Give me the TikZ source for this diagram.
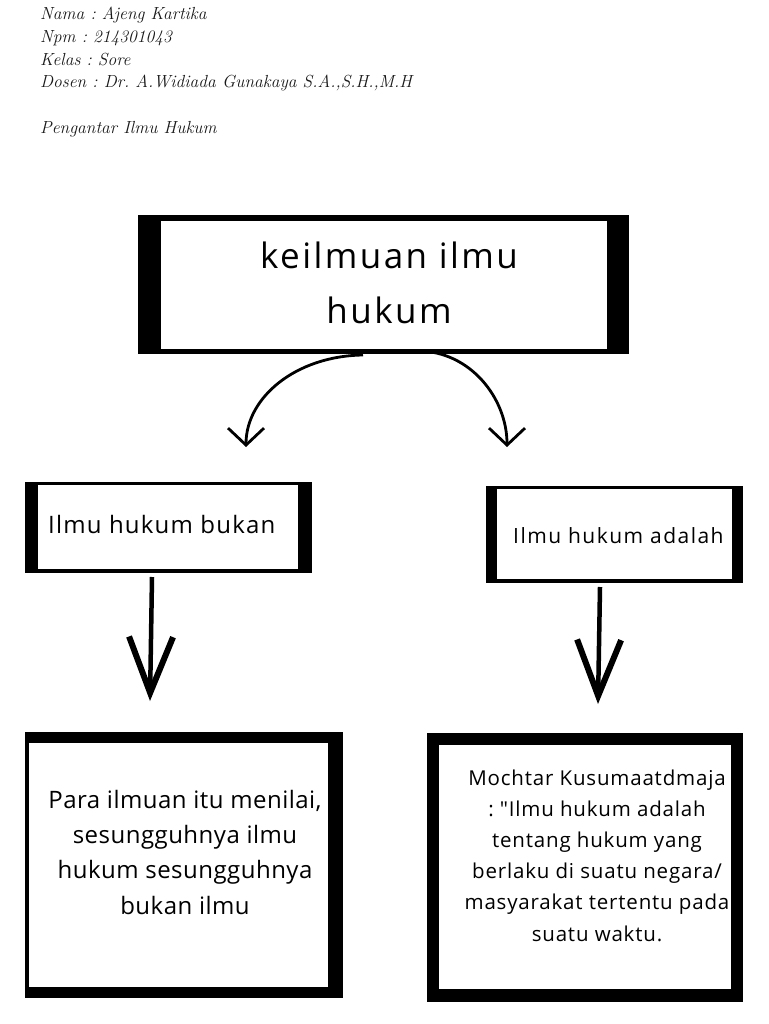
\documentclass[tikz,border=0pt]{standalone}
\usepackage{fontspec}
\newfontfamily\boxfont{Open Sans}
\usetikzlibrary{arrows.meta}
\frenchspacing
\begin{document}
\begin{tikzpicture}[x=1pt,y=-1pt,
  hdr/.style={anchor=base west,inner sep=0,font=\fontsize{17.5}{17.5}\selectfont\itshape,text=black!90},
  label/.style={inner sep=0,align=center},
  curvearrow/.style={line width=2.8pt,-{Straight Barb[length=17pt,width=36pt,line width=2.8pt]}},
  downarrow/.style={line width=4.5pt,-{Straight Barb[length=56pt,width=44pt,line width=6pt]}}]
\useasboundingbox[fill=white] (0,0) rectangle (768,1024);
% header
\node[hdr] (h1) at (40,20) {Nama : Ajeng Kartika};
\node[hdr] (h2) at (40,43) {Npm : 214301043};
\node[hdr] (h3) at (40,66) {Kelas : Sore};
\node[hdr] (h4) at (40,88) {Dosen : Dr. A.Widiada Gunakaya S.A.,S.H.,M.H};
\node[hdr] (h5) at (40,134) {Pengantar Ilmu Hukum};
% top box
\fill[black] (138,215) rectangle (629,354);
\fill[white] (161,221) rectangle (607,349);
\node[label,font={\boxfont\addfontfeatures{LetterSpace=7}\fontsize{35}{55}\selectfont},anchor=base] (top) at (389,323) {keilmuan ilmu\\hukum};
% left box
\fill[black] (25,482) rectangle (312,573);
\fill[white] (38,485) rectangle (298,569);
\node[label,font={\boxfont\addfontfeatures{LetterSpace=5}\fontsize{24}{24}\selectfont},anchor=base west] (lb) at (48,533) {Ilmu hukum bukan};
% right box
\fill[black] (486,486) rectangle (743,583);
\fill[white] (497,489) rectangle (732,579);
\node[label,font={\boxfont\addfontfeatures{LetterSpace=7}\fontsize{21}{21}\selectfont},anchor=base west] (rb) at (513,543) {Ilmu hukum adalah};
% bottom left box
\fill[black] (25,732) rectangle (343,998);
\fill[white] (29,743) rectangle (328,987);
\node[label,font={\boxfont\addfontfeatures{LetterSpace=2}\fontsize{24}{35.3}\selectfont},anchor=base] (bl) at (185,914) {Para ilmuan itu menilai,\\sesungguhnya ilmu\\hukum sesungguhnya\\bukan ilmu};
% bottom right box
\fill[black] (427,733) rectangle (743,1002);
\fill[white] (439,745) rectangle (731,989);
\node[label,font={\boxfont\addfontfeatures{LetterSpace=4}\fontsize{20.5}{31.2}\selectfont},anchor=base] (br) at (597,941) {Mochtar Kusumaatdmaja\\: "Ilmu hukum adalah\\tentang hukum yang\\berlaku di suatu negara/\\masyarakat tertentu pada\\suatu waktu.};
% connectors
\coordinate (topL) at (363,355);
\coordinate (topR) at (418,351);
\coordinate (tipL) at (246,447);
\coordinate (tipR) at (507,447);
\draw[curvearrow] (topL) .. controls (295,356) and (246,398) .. (tipL);
\draw[curvearrow] (topR) .. controls (470,351) and (507,398) .. (tipR);
\coordinate (lbS) at (152,577);
\coordinate (lbT) at (150,701);
\coordinate (rbS) at (600,587);
\coordinate (rbT) at (598,704);
\draw[downarrow] (lbS) -- (lbT);
\draw[downarrow] (rbS) -- (rbT);
\end{tikzpicture}
\end{document}
